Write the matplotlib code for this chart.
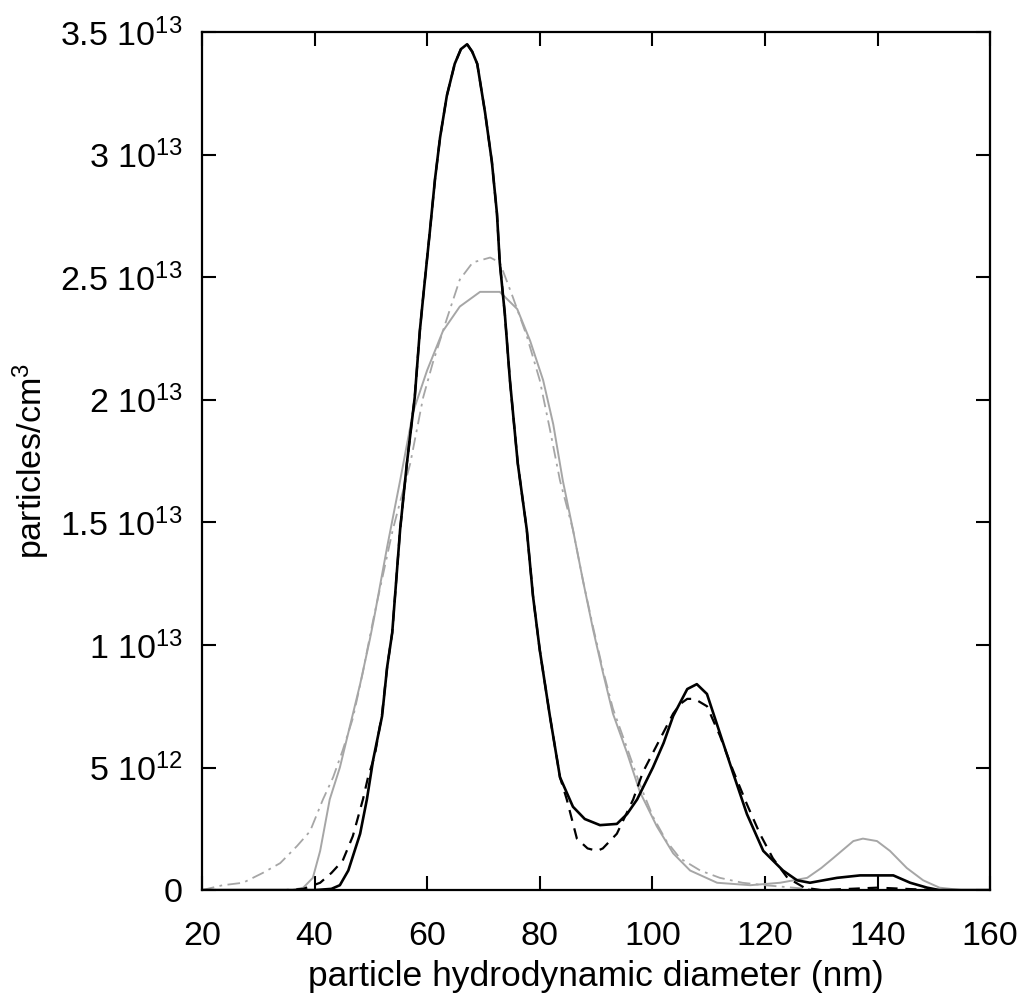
import matplotlib
matplotlib.use("Agg")
import matplotlib.pyplot as plt

plt.rcParams['font.family'] = ['Liberation Sans', 'DejaVu Sans']
plt.rcParams['mathtext.fontset'] = 'custom'
plt.rcParams['mathtext.rm'] = 'Liberation Sans'
plt.rcParams['mathtext.it'] = 'Liberation Sans'

# diameters (nm) and concentrations (units of 1e13 particles/cm^3)
black_solid_x = [20, 35, 40, 43, 44.5, 46, 48.1, 49.3, 50.4, 52, 52.9, 53.8, 55.2, 56.4, 57.8, 58.7, 59.3,
                 60.5, 61.4, 62.3, 63.5, 64.9, 66, 67.1, 68, 68.9, 70.3, 71.5, 72.4, 72.9, 73.8, 74.7,
                 76.1, 77.7, 78.8, 80, 81.8, 83.6, 85.9, 88, 90.7, 93.7, 95.5, 97.3, 100.1, 102, 103.7,
                 106.2, 107.9, 109.7, 112, 114.3, 116.8, 119.7, 123.2, 125.7, 128, 132.8, 136.9, 139.9,
                 142.8, 145.8, 148.8, 151, 160]
black_solid_y = [0, 0, 0, 0.005, 0.02, 0.08, 0.23, 0.37, 0.53, 0.71, 0.91, 1.05, 1.47, 1.74, 2.01, 2.28, 2.42,
                 2.69, 2.9, 3.07, 3.24, 3.37, 3.43, 3.45, 3.42, 3.37, 3.17, 2.97, 2.76, 2.56, 2.35, 2.08,
                 1.74, 1.47, 1.2, 0.98, 0.71, 0.46, 0.34, 0.29, 0.265, 0.27, 0.31, 0.37, 0.5, 0.6, 0.71,
                 0.82, 0.84, 0.8, 0.64, 0.48, 0.31, 0.16, 0.08, 0.04, 0.03, 0.05, 0.06, 0.06,
                 0.06, 0.03, 0.01, 0, 0]

black_dash_x = [20, 35, 38, 41, 43, 45, 46.8, 48.6, 49.5, 50.7, 52, 52.9, 53.8, 55.2, 56.4, 57.8, 58.7, 59.3,
                60.5, 61.4, 62.3, 63.5, 64.9, 66, 67.1, 68, 68.9, 70.3, 71.5, 72.4, 72.9, 73.8, 74.7,
                76.1, 77.7, 78.8, 80, 81.8, 83.6, 84.8, 86.6, 88.5, 90.2, 91.2, 93.7, 96.6, 98.3, 100.1,
                101.9, 103.7, 105, 106.2, 107.5, 109.7, 112, 114.3, 116.8, 119.1, 121.4, 124, 127, 130,
                140, 150, 160]
black_dash_y = [0, 0, 0.005, 0.03, 0.07, 0.12, 0.22, 0.37, 0.46, 0.55, 0.72, 0.91, 1.05, 1.47, 1.74, 2.01, 2.28, 2.42,
                2.69, 2.9, 3.07, 3.24, 3.37, 3.43, 3.45, 3.42, 3.37, 3.17, 2.97, 2.76, 2.56, 2.35, 2.08,
                1.74, 1.47, 1.2, 0.98, 0.71, 0.46, 0.37, 0.21, 0.17, 0.16, 0.17, 0.23, 0.37, 0.48, 0.56,
                0.64, 0.72, 0.76, 0.78, 0.78, 0.75, 0.63, 0.49, 0.35, 0.23, 0.13, 0.05, 0.01, 0,
                0.01, 0, 0]

gray_solid_x = [20, 30, 36, 38, 39.7, 41, 42.7, 44.5, 46.3, 48.1, 49.8, 50.5, 52.9, 55.2, 57.5, 60, 62.8,
                65.8, 69.4, 72.9, 76, 78.3, 80.6, 82.4, 84.1, 85.9, 87.7, 89.5, 91.2, 93, 95.5, 97.8,
                100.8, 103.7, 106.7, 111.5, 117.4, 122.7, 127.5, 130, 132.1, 135.7, 137.4, 139.9, 142.2,
                145.2, 148.1, 151, 155, 160]
gray_solid_y = [0, 0, 0, 0.01, 0.05, 0.16, 0.37, 0.5, 0.67, 0.84, 1.02, 1.1, 1.4, 1.67, 1.95, 2.12, 2.28,
                2.38, 2.44, 2.44, 2.37, 2.24, 2.08, 1.9, 1.67, 1.47, 1.26, 1.06, 0.89, 0.72, 0.56, 0.4,
                0.26, 0.15, 0.08, 0.03, 0.02, 0.03, 0.05, 0.09, 0.13, 0.2, 0.21, 0.2, 0.16,
                0.09, 0.04, 0.01, 0, 0]

gray_dashdot_x = [20, 23.7, 27.3, 30.8, 33.9, 36.9, 39.2, 41.5, 43.3, 45, 46.8, 48.6, 50.4, 53.9, 57, 59.3,
                  61, 63.5, 65.8, 68.1, 71.2, 72.9, 75.2, 77.7, 80, 81.8, 83.6, 85.9, 87.7, 89.5, 91.2,
                  93, 95.5, 97.8, 100.1, 102.5, 104.9, 108.5, 112, 116, 120, 125, 130, 140, 150, 160]
gray_dashdot_y = [0, 0.02, 0.03, 0.07, 0.11, 0.18, 0.24, 0.37, 0.46, 0.57, 0.7, 0.89, 1.1, 1.47, 1.74, 2.01,
                  2.15, 2.33, 2.49, 2.56, 2.58, 2.56, 2.42, 2.26, 2.08, 1.88, 1.67, 1.47, 1.26, 1.07, 0.9,
                  0.74, 0.58, 0.43, 0.3, 0.2, 0.13, 0.08, 0.05, 0.03, 0.02, 0.01, 0, 0, 0, 0]

x_ticks = [20, 40, 60, 80, 100, 120, 140, 160]
y_ticks = [0, 0.5, 1.0, 1.5, 2.0, 2.5, 3.0, 3.5]
y_tick_labels = ['0', r'5 $\mathregular{10^{12}}$', r'1 $\mathregular{10^{13}}$', r'1.5 $\mathregular{10^{13}}$',
                 r'2 $\mathregular{10^{13}}$', r'2.5 $\mathregular{10^{13}}$', r'3 $\mathregular{10^{13}}$',
                 r'3.5 $\mathregular{10^{13}}$']

fig = plt.figure(figsize=(10.25, 9.99), dpi=100)
ax = fig.add_axes([0.197, 0.109, 0.769, 0.859])

gray = '#a6a6a6'
ax.plot(gray_dashdot_x, gray_dashdot_y, color=gray, lw=1.3, dashes=(7, 3, 1.5, 3))
ax.plot(gray_solid_x, gray_solid_y, color=gray, lw=1.4)
ax.plot(black_dash_x, black_dash_y, color='black', lw=1.6, dashes=(5, 3.5))
ax.plot(black_solid_x, black_solid_y, color='black', lw=1.9)

ax.set_xlim(20, 160)
ax.set_ylim(0, 3.5)
ax.set_xticks(x_ticks)
ax.set_yticks(y_ticks)
ax.set_yticklabels(y_tick_labels)
ax.tick_params(direction='in', length=10, width=1.5, top=True, right=True, labelsize=24.5, colors='black')
ax.tick_params(axis='x', pad=22)
ax.tick_params(axis='y', pad=14)
for s in ax.spines.values():
    s.set_linewidth(1.6)

ax.set_xlabel('particle hydrodynamic diameter (nm)', fontsize=25.5, labelpad=6)
ax.set_ylabel(r'particles/cm$\mathregular{^3}$', fontsize=24.5, labelpad=6)

fig.savefig('out.png', dpi=100, facecolor='white')
